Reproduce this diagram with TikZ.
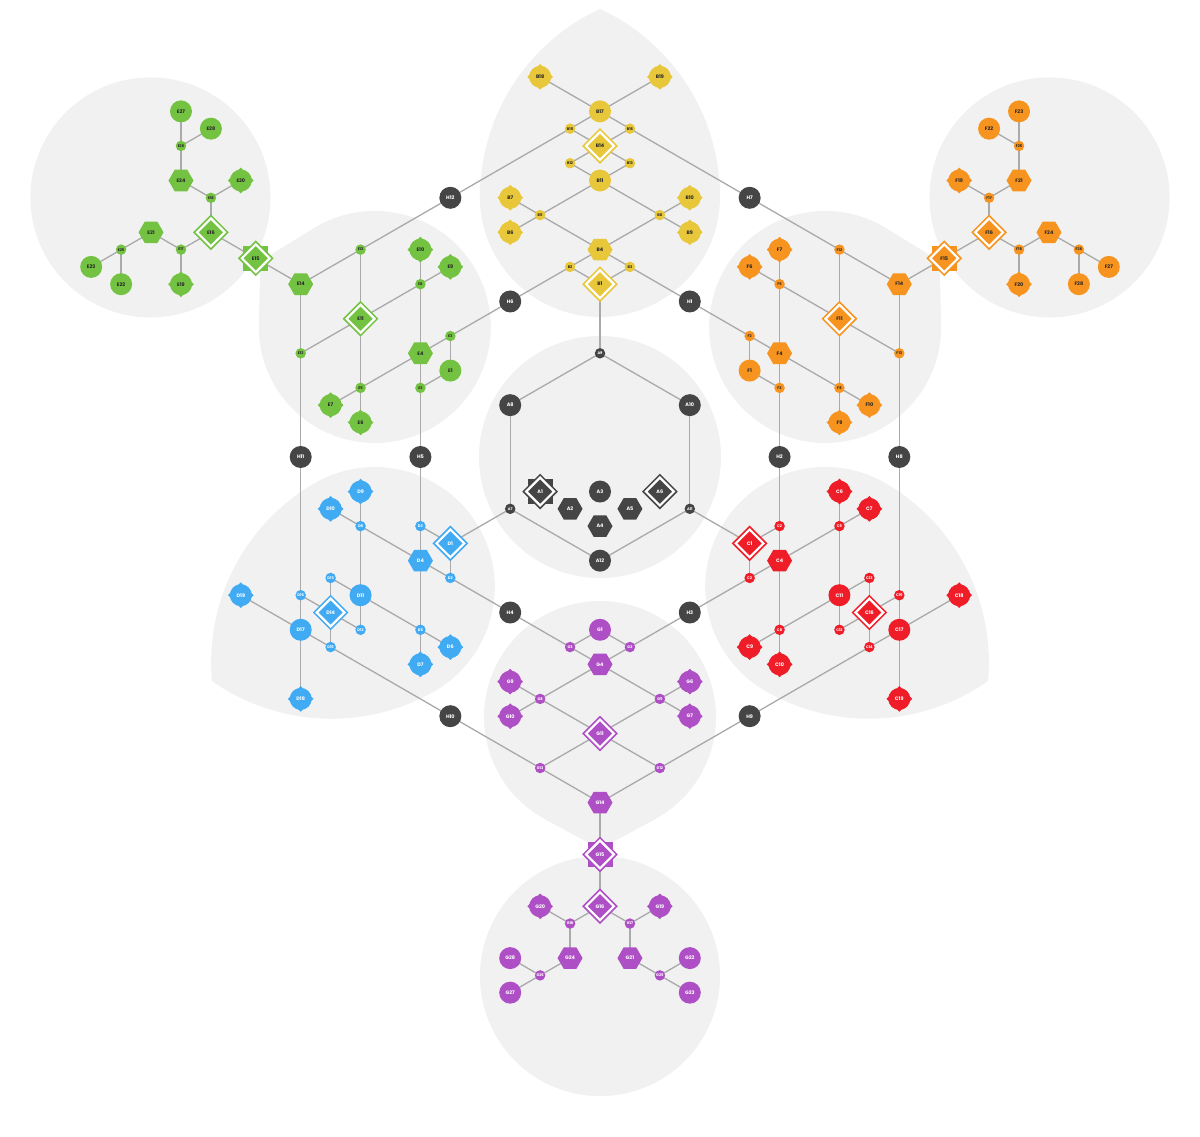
\documentclass[tikz,border=0pt]{standalone}
\usepackage{fontspec}
\newfontfamily\lblfont{Poppins}
\usetikzlibrary{shapes.geometric}

\definecolor{cA}{RGB}{69,69,69}
\definecolor{cB}{RGB}{232,200,58}
\definecolor{cC}{RGB}{239,29,40}
\definecolor{cD}{RGB}{64,170,243}
\definecolor{cE}{RGB}{116,194,66}
\definecolor{cF}{RGB}{247,148,32}
\definecolor{cG}{RGB}{175,79,198}
\definecolor{blobC}{RGB}{241,241,241}
\definecolor{lnC}{RGB}{170,170,170}

\pgfdeclarelayer{blobs}
\pgfdeclarelayer{links}
\pgfsetlayers{blobs,links,main}

\tikzset{
  nd/.style={inner sep=0pt, font=\lblfont\bfseries\fontsize{2.8}{3}\selectfont},
  big/.style={nd, circle, fill=#1, minimum size=0.44cm},
  hexa/.style={nd, regular polygon, regular polygon sides=6, fill=#1, minimum size=0.5cm},
  sml/.style={nd, circle, fill=#1, minimum size=0.21cm, font=\lblfont\bfseries\fontsize{2.1}{2.5}\selectfont},
  spike/.style={diamond, aspect=1, fill=#1, minimum size=0.52cm, inner sep=0pt},
  dd/.style={nd, diamond, aspect=1, fill=#1, draw=#1, double=white, double distance=0.044cm, line width=0.034cm, minimum size=0.57cm},
  sqr/.style={rectangle, fill=#1, minimum size=0.5cm, inner sep=0pt},
  link/.style={draw=lnC, line width=0.75pt},
  % petal with a long tip
  petal/.pic={
    \fill[blobC] (120,0) arc[start angle=0, end angle=65.1, radius=207.3]
      arc[start angle=114.9, end angle=180, radius=207.3]
      arc[start angle=180, end angle=360, radius=120] -- cycle;
  },
  % petal with a short tip, towards an outer circle
  neck/.pic={
    \fill[blobC] (0,132) -- (61.5:116) arc[start angle=61.5, end angle=-241.5, radius=116] -- cycle;
  }
}

\begin{document}
\begin{tikzpicture}[x=0.5986cm, y=-0.3456cm, every node/.style={text=white}]
\useasboundingbox (-20.047,-26.447) rectangle (20.047,39.352);

% grey backgrounds
\begin{pgfonlayer}{blobs}
 \begin{scope}[x=0.02cm, y=0.02cm]
  \fill[blobC] (0,0) circle (121);
  \foreach \a in {90,-30,-150} \pic[rotate=\a-90] at (\a:260) {petal};
  \foreach \a in {150,30,-90} {
    \pic[rotate=\a-90] at (\a:260) {neck};
    \fill[blobC] (\a:519) circle (120);
  }
 \end{scope}
\end{pgfonlayer}

% A
\foreach \n/\x/\y in {A8/-3/-3,A10/3/-3,A12/0/6,A3/0/2} \node[big=cA] (\n) at (\x,\y) {\n};
\foreach \n/\x/\y in {A2/-1/3,A4/0/4,A5/1/3} \node[hexa=cA] (\n) at (\x,\y) {\n};
\foreach \n/\x/\y in {A9/0/-6,A7/-3/3,A11/3/3} \node[sml=cA] (\n) at (\x,\y) {\n};
\node[dd=cA] (A6) at (2,2) {A6};
\node[sqr=cA] at (-2,2) {};
\node[dd=cA] (A1) at (-2,2) {A1};

% H
\foreach \n/\x/\y in {H12/-5/-15,H7/5/-15,H6/-3/-9,H1/3/-9,H11/-10/0,H5/-6/0,H2/6/0,H8/10/0,H4/-3/9,H3/3/9,H10/-5/15,H9/5/15}
  \node[big=cA] (\n) at (\x,\y) {\n};

% B
\begin{scope}[every node/.append style={text=black!85}]
\foreach \n/\x/\y in {B17/0/-20,B11/0/-16} \node[big=cB] (\n) at (\x,\y) {\n};
\node[hexa=cB] (B4) at (0,-12) {B4};
\foreach \n/\x/\y in {B15/-1/-19,B16/1/-19,B12/-1/-17,B13/1/-17,B5/-2/-14,B8/2/-14,B2/-1/-11,B3/1/-11}
  \node[sml=cB] (\n) at (\x,\y) {\n};
\foreach \n/\x/\y in {B18/-2/-22,B19/2/-22,B7/-3/-15,B6/-3/-13,B10/3/-15,B9/3/-13}
  {\node[spike=cB] at (\x,\y) {}; \node[big=cB] (\n) at (\x,\y) {\n};}
\foreach \n/\x/\y in {B14/0/-18,B1/0/-10} \node[dd=cB] (\n) at (\x,\y) {\n};
\end{scope}

% E
\begin{scope}[every node/.append style={text=black!85}]
\foreach \n/\x/\y in {E27/-14/-20,E28/-13/-19,E23/-17/-11,E22/-16/-10,E1/-5/-5} \node[big=cE] (\n) at (\x,\y) {\n};
\foreach \n/\x/\y in {E24/-14/-16,E21/-15/-13,E14/-10/-10,E4/-6/-6} \node[hexa=cE] (\n) at (\x,\y) {\n};
\foreach \n/\x/\y in {E26/-14/-18,E18/-13/-15,E17/-14/-12,E25/-16/-12,E13/-8/-12,E8/-6/-10,E12/-10/-6,E3/-5/-7,E5/-8/-4,E2/-6/-4}
  \node[sml=cE] (\n) at (\x,\y) {\n};
\foreach \n/\x/\y in {E20/-12/-16,E19/-14/-10,E10/-6/-12,E9/-5/-11,E7/-9/-3,E6/-8/-2}
  {\node[spike=cE] at (\x,\y) {}; \node[big=cE] (\n) at (\x,\y) {\n};}
\foreach \n/\x/\y in {E16/-13/-13,E11/-8/-8} \node[dd=cE] (\n) at (\x,\y) {\n};
\node[sqr=cE] at (-11.5,-11.5) {};
\node[dd=cE] (E15) at (-11.5,-11.5) {E15};
\end{scope}

% F
\begin{scope}[every node/.append style={text=black!85}]
\foreach \n/\x/\y in {F23/14/-20,F22/13/-19,F27/17/-11,F28/16/-10,F1/5/-5} \node[big=cF] (\n) at (\x,\y) {\n};
\foreach \n/\x/\y in {F21/14/-16,F24/15/-13,F14/10/-10,F4/6/-6} \node[hexa=cF] (\n) at (\x,\y) {\n};
\foreach \n/\x/\y in {F25/14/-18,F17/13/-15,F18/14/-12,F26/16/-12,F12/8/-12,F5/6/-10,F13/10/-6,F2/5/-7,F8/8/-4,F3/6/-4}
  \node[sml=cF] (\n) at (\x,\y) {\n};
\foreach \n/\x/\y in {F19/12/-16,F20/14/-10,F7/6/-12,F6/5/-11,F10/9/-3,F9/8/-2}
  {\node[spike=cF] at (\x,\y) {}; \node[big=cF] (\n) at (\x,\y) {\n};}
\foreach \n/\x/\y in {F16/13/-13,F11/8/-8} \node[dd=cF] (\n) at (\x,\y) {\n};
\node[sqr=cF] at (11.5,-11.5) {};
\node[dd=cF] (F15) at (11.5,-11.5) {F15};
\end{scope}

% D
\foreach \n/\x/\y in {D11/-8/8,D17/-10/10} \node[big=cD] (\n) at (\x,\y) {\n};
\node[hexa=cD] (D4) at (-6,6) {D4};
\foreach \n/\x/\y in {D8/-8/4,D3/-6/4,D2/-5/7,D13/-9/7,D16/-10/8,D12/-8/10,D5/-6/10,D15/-9/11}
  \node[sml=cD] (\n) at (\x,\y) {\n};
\foreach \n/\x/\y in {D9/-8/2,D10/-9/3,D19/-12/8,D6/-5/11,D7/-6/12,D18/-10/14}
  {\node[spike=cD] at (\x,\y) {}; \node[big=cD] (\n) at (\x,\y) {\n};}
\foreach \n/\x/\y in {D1/-5/5,D14/-9/9} \node[dd=cD] (\n) at (\x,\y) {\n};

% C
\foreach \n/\x/\y in {C11/8/8,C17/10/10} \node[big=cC] (\n) at (\x,\y) {\n};
\node[hexa=cC] (C4) at (6,6) {C4};
\foreach \n/\x/\y in {C2/6/4,C5/8/4,C3/5/7,C13/9/7,C15/10/8,C12/8/10,C8/6/10,C14/9/11}
  \node[sml=cC] (\n) at (\x,\y) {\n};
\foreach \n/\x/\y in {C6/8/2,C7/9/3,C18/12/8,C9/5/11,C10/6/12,C19/10/14}
  {\node[spike=cC] at (\x,\y) {}; \node[big=cC] (\n) at (\x,\y) {\n};}
\foreach \n/\x/\y in {C1/5/5,C16/9/9} \node[dd=cC] (\n) at (\x,\y) {\n};

% G
\foreach \n/\x/\y in {G1/0/10,G28/-3/29,G27/-3/31,G22/3/29,G23/3/31} \node[big=cG] (\n) at (\x,\y) {\n};
\foreach \n/\x/\y in {G4/0/12,G14/0/20,G24/-1/29,G21/1/29} \node[hexa=cG] (\n) at (\x,\y) {\n};
\foreach \n/\x/\y in {G3/-1/11,G2/1/11,G8/-2/14,G5/2/14,G13/-2/18,G12/2/18,G18/-1/27,G17/1/27,G26/-2/30,G25/2/30}
  \node[sml=cG] (\n) at (\x,\y) {\n};
\foreach \n/\x/\y in {G9/-3/13,G10/-3/15,G6/3/13,G7/3/15,G20/-2/26,G19/2/26}
  {\node[spike=cG] at (\x,\y) {}; \node[big=cG] (\n) at (\x,\y) {\n};}
\foreach \n/\x/\y in {G11/0/16,G16/0/26} \node[dd=cG] (\n) at (\x,\y) {\n};
\node[sqr=cG] at (0,23) {};
\node[dd=cG] (G15) at (0,23) {G15};

% connectors
\begin{pgfonlayer}{links}
\foreach \a/\b in {A9/A8,A9/A10,A8/A7,A10/A11,A7/A12,A11/A12,A9/B1,A7/D1,A11/C1,
  B2/H6,H6/E3,B3/H1,H1/F2,B15/H12,H12/E13,B16/H7,H7/F12,E12/H11,H11/D16,E2/H5,H5/D3,
  F3/H2,H2/C2,F13/H8,H8/C15,D2/H4,H4/G3,C3/H3,H3/G2,D15/H10,H10/G13,C14/H9,H9/G12}
  \draw[link] (\a.center) -- (\b.center);
\foreach \a/\b in {B18/B17,B19/B17,B17/B15,B17/B16,B15/B14,B16/B14,B14/B12,B14/B13,B12/B11,B13/B11,
  B11/B5,B11/B8,B7/B5,B6/B5,B5/B4,B10/B8,B9/B8,B8/B4,B4/B2,B4/B3,B2/B1,B3/B1}
  \draw[link] (\a.center) -- (\b.center);
\foreach \a/\b in {E27/E26,E28/E26,E26/E24,E24/E18,E20/E18,E18/E16,E16/E17,E17/E21,E21/E25,E25/E23,
  E25/E22,E17/E19,E16/E15,E15/E14,E14/E13,E14/E12,E13/E11,E12/E11,E11/E8,E10/E8,E9/E8,E8/E4,
  E11/E5,E5/E6,E7/E5,E5/E4,E4/E3,E3/E1,E1/E2,E4/E2}
  \draw[link] (\a.center) -- (\b.center);
\foreach \a/\b in {F23/F25,F22/F25,F25/F21,F21/F17,F19/F17,F17/F16,F16/F18,F18/F24,F24/F26,F26/F27,
  F26/F28,F18/F20,F16/F15,F15/F14,F14/F12,F14/F13,F12/F11,F13/F11,F11/F5,F7/F5,F6/F5,F5/F4,
  F11/F8,F8/F9,F10/F8,F8/F4,F4/F2,F2/F1,F1/F3,F4/F3}
  \draw[link] (\a.center) -- (\b.center);
\foreach \a/\b in {D9/D8,D10/D8,D8/D4,D8/D11,D3/D1,D3/D4,D1/D2,D4/D2,D13/D11,D13/D14,D11/D12,
  D11/D5,D16/D14,D14/D12,D4/D5,D5/D6,D5/D7,D19/D17,D16/D17,D17/D18,D17/D15,D14/D15}
  \draw[link] (\a.center) -- (\b.center);
\foreach \a/\b in {C6/C5,C7/C5,C4/C5,C5/C11,C2/C1,C2/C4,C1/C3,C3/C4,C13/C11,C13/C16,C11/C12,
  C11/C8,C15/C16,C16/C12,C4/C8,C8/C9,C8/C10,C18/C17,C15/C17,C17/C19,C17/C14,C16/C14}
  \draw[link] (\a.center) -- (\b.center);
\foreach \a/\b in {G3/G1,G3/G4,G1/G2,G2/G4,G4/G8,G4/G5,G9/G8,G10/G8,G8/G11,G6/G5,G7/G5,G5/G11,
  G11/G13,G11/G12,G13/G14,G12/G14,G14/G15,G15/G16,G16/G18,G16/G17,G20/G18,G19/G17,G18/G24,
  G17/G21,G24/G26,G26/G28,G26/G27,G21/G25,G25/G22,G25/G23}
  \draw[link] (\a.center) -- (\b.center);
\end{pgfonlayer}
\end{tikzpicture}
\end{document}
